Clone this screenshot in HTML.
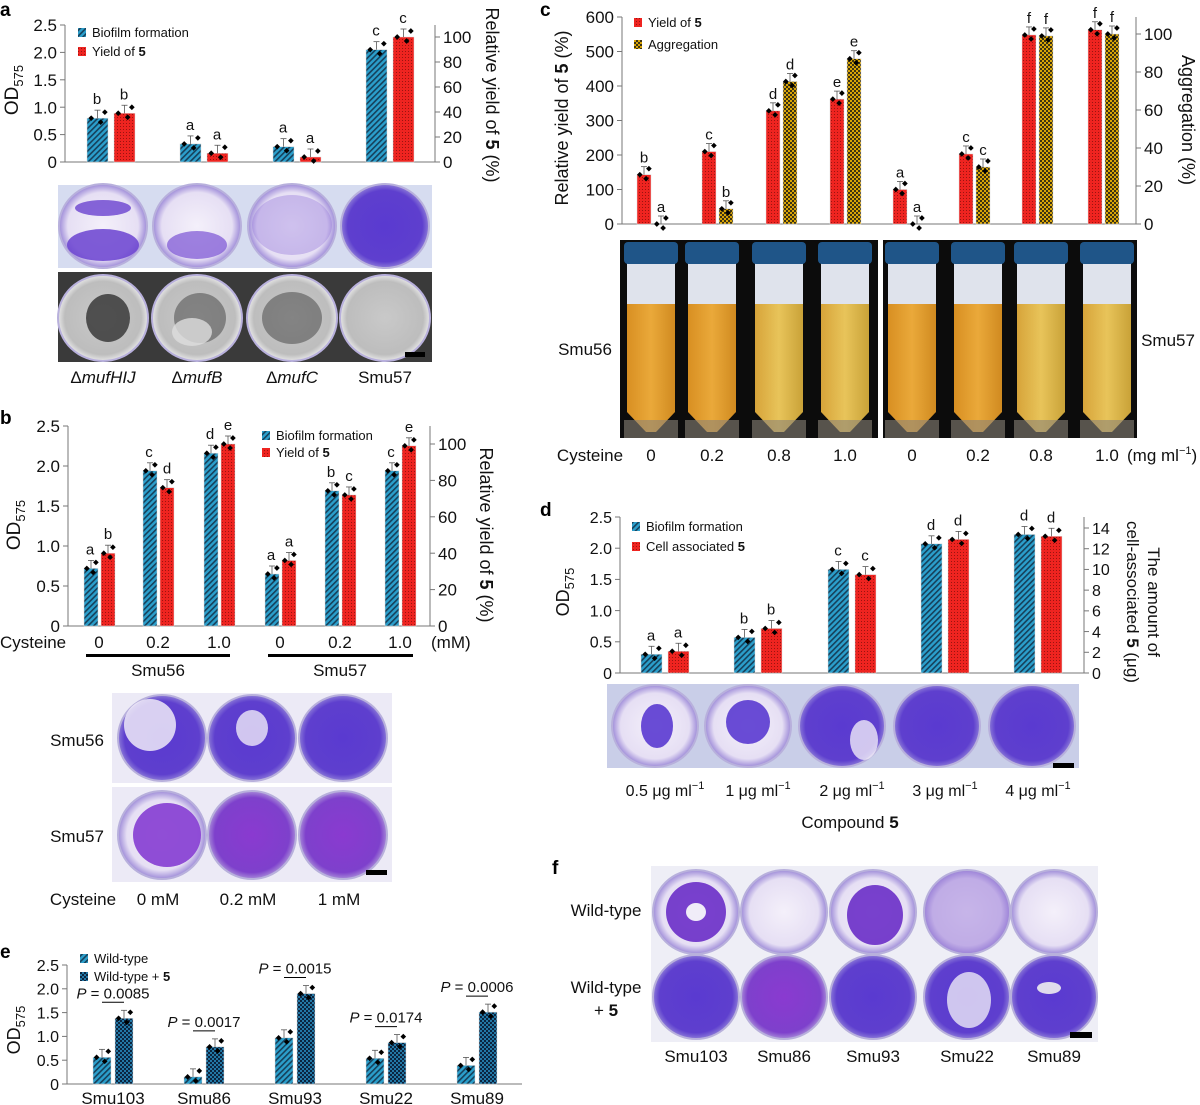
<!DOCTYPE html>
<html><head><meta charset="utf-8"><style>
html,body{margin:0;padding:0;background:#fff;}
svg{display:block;font-family:"Liberation Sans",Arial,sans-serif;}
</style></head><body>
<svg id="fig" width="1200" height="1105" viewBox="0 0 1200 1105" xmlns="http://www.w3.org/2000/svg">
<defs>
<pattern id="pBlue" width="4" height="4" patternUnits="userSpaceOnUse" patternTransform="rotate(45)"><rect width="4" height="4" fill="#2b9fcc"/><rect width="1.6" height="4" fill="#16405a"/></pattern>
<pattern id="pRed" width="3" height="3" patternUnits="userSpaceOnUse"><rect width="3" height="3" fill="#ee2420"/><rect width="1" height="1" fill="#9a1410"/></pattern>
<pattern id="pGold" width="4" height="4" patternUnits="userSpaceOnUse"><rect width="4" height="4" fill="#d8a406"/><rect width="2" height="2" fill="#3b3212"/><rect x="2" y="2" width="2" height="2" fill="#3b3212"/></pattern>
<pattern id="pDark" width="4" height="4" patternUnits="userSpaceOnUse"><rect width="4" height="4" fill="#2378a6"/><rect width="2" height="2" fill="#0b2540"/><rect x="2" y="2" width="2" height="2" fill="#0b2540"/></pattern>
<radialGradient id="gPurple"><stop offset="0" stop-color="#5a3ad0"/><stop offset="0.85" stop-color="#5e3fce"/><stop offset="1" stop-color="#8c7ad8"/></radialGradient>
<radialGradient id="gMag"><stop offset="0" stop-color="#8a3ad0"/><stop offset="0.85" stop-color="#7e40cc"/><stop offset="1" stop-color="#a78ad8"/></radialGradient>
<radialGradient id="gLight"><stop offset="0" stop-color="#f4f0fa"/><stop offset="0.8" stop-color="#e6dff4"/><stop offset="1" stop-color="#9d8ad8"/></radialGradient>
<radialGradient id="gGray"><stop offset="0" stop-color="#c9c9c9"/><stop offset="0.85" stop-color="#bdbdbd"/><stop offset="1" stop-color="#e6e6e6"/></radialGradient>
<linearGradient id="gAmber" x1="0" x2="1"><stop offset="0" stop-color="#d88f22"/><stop offset="0.5" stop-color="#eaa93a"/><stop offset="1" stop-color="#d08a20"/></linearGradient>
<linearGradient id="gYellow" x1="0" x2="1"><stop offset="0" stop-color="#d7a43a"/><stop offset="0.5" stop-color="#e8c45a"/><stop offset="1" stop-color="#c9a238"/></linearGradient>
</defs>
<g id="root"></g>
</svg>
<script>
// ===== Panel a data =====
const aCats = ['ΔmufHIJ','ΔmufB','ΔmufC','Smu57'];
const aBiofilm = [0.80, 0.33, 0.28, 2.05];
const aYield = [39, 7, 4, 100];
const aLetB = ['b','a','a','c'];
const aLetR = ['b','a','a','c'];
const aLeftTicks = [0,0.5,1.0,1.5,2.0,2.5];
const aRightTicks = [0,20,40,60,80,100];
// ===== Panel b data =====
const bCats = ['0','0.2','1.0','0','0.2','1.0'];
const bBiofilm = [0.72, 1.94, 2.16, 0.65, 1.69, 1.94];
const bYield = [40, 76, 100, 36, 72, 99];
const bLetB = ['a','c','d','a','b','c'];
const bLetR = ['b','d','e','a','c','e'];
const bRightTicks = [0,20,40,60,80,100];
// ===== Panel c data =====
const cCats = ['0','0.2','0.8','1.0','0','0.2','0.8','1.0'];
const cYield = [143, 210, 328, 362, 100, 203, 548, 563];
const cAggregation = [0, 8, 75, 87, 0, 30, 99, 100];
const cLetR = ['b','c','d','e','a','c','f','f'];
const cLetG = ['a','b','d','e','a','c','f','f'];
const cLeftTicks = [0,100,200,300,400,500,600];
const cRightTicks = [0,20,40,60,80,100];
// ===== Panel d data =====
const dCats = ['0.5 μg ml⁻¹','1 μg ml⁻¹','2 μg ml⁻¹','3 μg ml⁻¹','4 μg ml⁻¹'];
const dBiofilm = [0.30, 0.57, 1.66, 2.07, 2.22];
const dCell = [2.1, 4.3, 9.5, 12.9, 13.2];
const dLet = ['a','b','c','d','d'];
const dRightTicks = [0,2,4,6,8,10,12,14];
// ===== Panel e data =====
const eCats = ['Smu103','Smu86','Smu93','Smu22','Smu89'];
const eWT = [0.56, 0.15, 0.97, 0.54, 0.39];
const eWT5 = [1.38, 0.78, 1.90, 0.87, 1.51];
const eP = ['0.0085','0.0017','0.0015','0.0174','0.0006'];

const NS='http://www.w3.org/2000/svg';
const root=document.getElementById('root');
function el(tag,attrs,parent,text){const e=document.createElementNS(NS,tag);for(const k in attrs)e.setAttribute(k,attrs[k]);if(text!==undefined)e.textContent=text;(parent||root).appendChild(e);return e;}
function lin(d0,d1,r0,r1){return v=>r0+(v-d0)*(r1-r0)/(d1-d0);}
function grp(name){const g=el('g',{});return g;}
function txt(g,x,y,s,size,anchor,extra){const t=el('text',Object.assign({x:x,y:y,'font-size':size,'text-anchor':anchor||'middle',fill:'#111'},extra||{}),g,s);return t;}
function bar(g,x,w,yv,y0,fill,name){const r=el('rect',{x:x,y:Math.min(yv,y0),width:w,height:Math.abs(y0-yv),fill:fill,stroke:'#ddd','stroke-width':0.5},g);
 // error bar + points
 const cx=x+w/2;el('line',{x1:cx,y1:yv,x2:cx,y2:yv-8,stroke:'#555','stroke-width':0.8},g);el('line',{x1:cx-3,y1:yv-8,x2:cx+3,y2:yv-8,stroke:'#555','stroke-width':0.8},g);
 [[-w*0.3,0],[w*0.35,-6],[w*0.15,4]].forEach(p=>{el('rect',{x:cx+p[0]-2,y:yv+p[1]-2,width:4,height:4,fill:'#000',transform:`rotate(45 ${cx+p[0]} ${yv+p[1]})`},g);});
 return r;}
function leftAxis(g,x,yB,yT,ticks,sc,fmt,size){el('line',{x1:x,y1:yB,x2:x,y2:yT,stroke:'#777','stroke-width':1},g);ticks.forEach(t=>{const y=sc(t);el('line',{x1:x-5,y1:y,x2:x,y2:y,stroke:'#777'},g);txt(g,x-8,y+size*0.36,fmt(t),size,'end');});}
function rightAxis(g,x,yB,yT,ticks,sc,size){el('line',{x1:x,y1:yB,x2:x,y2:yT,stroke:'#777','stroke-width':1},g);ticks.forEach(t=>{const y=sc(t);el('line',{x1:x,y1:y,x2:x+5,y2:y,stroke:'#777'},g);txt(g,x+8,y+size*0.36,String(t),size,'start');});}
function f1(t){return t===0?'0':t.toFixed(1);}
function rotLabel(g,x,y,ang,html,size,name){const t=el('text',{x:0,y:0,'font-size':size,'text-anchor':'middle',fill:'#111',transform:`translate(${x},${y}) rotate(${ang})`},g);t.innerHTML=html;return t;}
function legend(g,x,y,fill,html,size,name){const r=el('rect',{x:x,y:y-9,width:8,height:9,fill:fill},g);const t=el('text',{x:x+14,y:y,'font-size':size,fill:'#111'},g);t.innerHTML=html;}
function panelLetter(x,y,s){const t=el('text',{x:x,y:y,'font-size':19,'font-weight':'bold',fill:'#000'},root,s);}
function well(g,cx,cy,rx,ry,fill,name){const c=el('ellipse',{cx:cx,cy:cy,rx:rx,ry:ry,fill:fill,stroke:'#b8b0dc','stroke-width':2},g);return c;}
function blob(g,cx,cy,rx,ry,fill,op){el('ellipse',{cx:cx,cy:cy,rx:rx,ry:ry,fill:fill,opacity:op||1},g);}

// ================= Panel a =================
panelLetter(0,16,'a');
{const g=grp('panel-a-chart');
 const y=lin(0,2.5,162,25), yr=lin(0,100,162,37);
 leftAxis(g,65,162,25,aLeftTicks,y,f1,17);
 rightAxis(g,435,162,25,aRightTicks,yr,17);
 el('line',{x1:65,y1:162,x2:435,y2:162,stroke:'#777'},g);
 const bx=[87,180,273,366];
 aCats.forEach((c,i)=>{const yb=y(aBiofilm[i]),yy=yr(aYield[i]);
  bar(g,bx[i],21,yb,162,'url(#pBlue)','bar-biofilm-'+i);
  bar(g,bx[i]+27,21,yy,162,'url(#pRed)','bar-yield-'+i);
  txt(g,bx[i]+10,yb-14,aLetB[i],15);txt(g,bx[i]+37,yy-14,aLetR[i],15);});
 legend(g,78,37,'url(#pBlue)','Biofilm formation',13,'legend-biofilm');
 legend(g,78,56,'url(#pRed)','Yield of <tspan font-weight="bold">5</tspan>',13,'legend-yield');
 rotLabel(g,18,90,-90,'OD<tspan font-size="13" dy="5">575</tspan>',19,'y-axis-title');
 rotLabel(g,486,95,90,'Relative yield of <tspan font-weight="bold">5</tspan> (%)',18,'right-axis-title');
}
{const g=grp('panel-a-photos');
 el('rect',{x:58,y:185,width:374,height:83,fill:'#d6dcf0'},g);
 el('rect',{x:58,y:272,width:374,height:90,fill:'#3a3a3a'},g);
 const cx=[103,197,292,385];
 const fills=['url(#gLight)','url(#gLight)','url(#gLight)','url(#gPurple)'];
 cx.forEach((x,i)=>{well(g,x,226,44,42,fills[i],'well-purple-'+i);well(g,x,318,45,43,'url(#gGray)','well-gray-'+i);});
 blob(g,103,245,36,16,'#6a42d0',0.85);blob(g,103,208,28,8,'#6a42d0',0.8);
 blob(g,197,245,30,14,'#7a52d4',0.7);blob(g,292,225,40,30,'#8a6ad8',0.35);
 blob(g,108,318,22,24,'#3a3a3a',0.85);blob(g,200,318,26,25,'#555',0.6);blob(g,292,318,30,26,'#4a4a4a',0.55);blob(g,192,332,20,14,'#ddd',0.8);
 el('rect',{x:405,y:352,width:20,height:5,fill:'#000'},g);
 ['ΔmufHIJ','ΔmufB','ΔmufC'].forEach((s,i)=>{const t=txt(g,cx[i],383,'',17);t.innerHTML='Δ<tspan font-style="italic">'+s.slice(1)+'</tspan>';});
 txt(g,385,383,'Smu57',17);
}

// ================= Panel b =================
panelLetter(0,424,'b');
{const g=grp('panel-b-chart');
 const y=lin(0,2.5,626,426), yr=lin(0,100,626,444);
 leftAxis(g,68,626,426,aLeftTicks,y,f1,17);
 rightAxis(g,430,626,426,bRightTicks,yr,17);
 el('line',{x1:68,y1:626,x2:430,y2:626,stroke:'#777'},g);
 const bx=[84,143,204,265,325,385];
 bCats.forEach((c,i)=>{const yb=y(bBiofilm[i]),yy=yr(bYield[i]);
  bar(g,bx[i],14,yb,626,'url(#pBlue)','bar-biofilm-'+i);
  bar(g,bx[i]+17,14,yy,626,'url(#pRed)','bar-yield-'+i);
  txt(g,bx[i]+6,yb-14,bLetB[i],15);txt(g,bx[i]+24,yy-14,bLetR[i],15);
  txt(g,bx[i]+15,648,c,17);});
 txt(g,0,648,'Cysteine',17,'start');txt(g,431,648,'(mM)',17,'start');
 el('rect',{x:86,y:654,width:144,height:3,fill:'#000'},g);el('rect',{x:268,y:654,width:145,height:3,fill:'#000'},g);
 txt(g,158,676,'Smu56',17);txt(g,340,676,'Smu57',17);
 legend(g,262,440,'url(#pBlue)','Biofilm formation',13,'legend-biofilm');
 legend(g,262,457,'url(#pRed)','Yield of <tspan font-weight="bold">5</tspan>',13,'legend-yield');
 rotLabel(g,20,525,-90,'OD<tspan font-size="13" dy="5">575</tspan>',19,'y-axis-title');
 rotLabel(g,480,535,90,'Relative yield of <tspan font-weight="bold">5</tspan> (%)',18,'right-axis-title');
}
{const g=grp('panel-b-photos');
 el('rect',{x:112,y:693,width:280,height:90,fill:'#eceaf6'},g);
 el('rect',{x:112,y:787,width:280,height:95,fill:'#eceaf6'},g);
 const cx=[162,252,343];
 well(g,162,738,44,43,'url(#gPurple)','well-smu56-0');blob(g,150,725,26,26,'#efeaf8',0.85);
 well(g,252,738,44,43,'url(#gPurple)','well-smu56-1');blob(g,252,728,16,18,'#efeaf8',0.8);
 well(g,343,738,44,43,'url(#gPurple)','well-smu56-2');
 well(g,162,835,44,44,'url(#gLight)','well-smu57-0');blob(g,167,835,34,32,'#8a44d4',0.95);
 well(g,252,835,44,44,'url(#gMag)','well-smu57-1');
 well(g,343,835,44,44,'url(#gMag)','well-smu57-2');
 el('rect',{x:366,y:870,width:21,height:5,fill:'#000'},g);
 txt(g,77,746,'Smu56',17);txt(g,77,842,'Smu57',17);
 txt(g,83,905,'Cysteine',17);cx.forEach((x,i)=>txt(g,x-4,905,['0 mM','0.2 mM','1 mM'][i],17));
}

// ================= Panel c =================
panelLetter(540,16,'c');
{const g=grp('panel-c-chart');
 const y=lin(0,600,224,17), yr=lin(0,100,224,34);
 leftAxis(g,622,224,17,cLeftTicks,y,String,17);
 rightAxis(g,1136,224,17,cRightTicks,yr,17);
 el('line',{x1:622,y1:224,x2:1136,y2:224,stroke:'#777'},g);
 const bx=[637,702,766,830,893,959,1022,1088];
 cCats.forEach((c,i)=>{const yy=y(cYield[i]),ya=yr(cAggregation[i]);
  bar(g,bx[i],14,yy,224,'url(#pRed)','bar-yield-'+i);
  bar(g,bx[i]+17,14,ya,224,'url(#pGold)','bar-aggregation-'+i);
  txt(g,bx[i]+7,yy-12,cLetR[i],15);txt(g,bx[i]+24,ya-12,cLetG[i],15);});
 legend(g,634,27,'url(#pRed)','Yield of <tspan font-weight="bold">5</tspan>',13,'legend-yield');
 legend(g,634,49,'url(#pGold)','Aggregation',13,'legend-aggregation');
 rotLabel(g,568,118,-90,'Relative yield of <tspan font-weight="bold">5</tspan> (%)',18,'y-axis-title');
 rotLabel(g,1182,120,90,'Aggregation (%)',18,'right-axis-title');
}
{const g=grp('panel-c-photos');
 el('rect',{x:620,y:240,width:258,height:198,fill:'#0c0c0c'},g);
 el('rect',{x:883,y:240,width:254,height:198,fill:'#0c0c0c'},g);
 const tx=[651,712,779,845,912,978,1041,1107];
 tx.forEach((x,i)=>{const t=grp('tube-'+i);
  const yellow=(i==2||i==3||i==6||i==7);
  el('path',{d:`M${x-24},303 L${x+24},303 L${x+24},412 L${x+5},432 L${x-5},432 L${x-24},412 Z`,fill:yellow?'url(#gYellow)':'url(#gAmber)'},t);
  el('rect',{x:x-24,y:262,width:48,height:42,fill:'#dfe3ec'},t);
  el('rect',{x:x-27,y:242,width:54,height:22,rx:4,fill:'#1f5588'},t);
  el('rect',{x:x-27,y:420,width:54,height:18,fill:'#8a8478',opacity:0.6},t);});
 el('rect',{x:1104,y:406,width:12,height:5,fill:'#000'},g);
 txt(g,585,355,'Smu56',17);txt(g,1168,346,'Smu57',17);
 txt(g,590,461,'Cysteine',17);
 cCats.forEach((c,i)=>txt(g,tx[i],461,c,17));
 const m=txt(g,1127,461,'',17,'start');m.innerHTML='(mg ml<tspan font-size="11" dy="-7">−1</tspan><tspan dy="7">)</tspan>';
}

// ================= Panel d =================
panelLetter(540,516,'d');
{const g=grp('panel-d-chart');
 const y=lin(0,2.5,673,517), yr=lin(0,14,673,528);
 leftAxis(g,620,673,517,aLeftTicks,y,f1,16);
 rightAxis(g,1084,673,517,dRightTicks,yr,16);
 el('line',{x1:620,y1:673,x2:1084,y2:673,stroke:'#777'},g);
 const bx=[641,734,828,921,1014];
 dCats.forEach((c,i)=>{const yb=y(dBiofilm[i]),yc=yr(dCell[i]);
  bar(g,bx[i],21,yb,673,'url(#pBlue)','bar-biofilm-'+i);
  bar(g,bx[i]+27,21,yc,673,'url(#pRed)','bar-cell-'+i);
  txt(g,bx[i]+10,yb-14,dLet[i],15);txt(g,bx[i]+37,yc-14,dLet[i],15);
  const t=txt(g,bx[i]+24,796,'',16);t.innerHTML=c.replace('⁻¹','<tspan font-size="11" dy="-7">−1</tspan>');});
 legend(g,632,531,'url(#pBlue)','Biofilm formation',13,'legend-biofilm');
 legend(g,632,551,'url(#pRed)','Cell associated <tspan font-weight="bold">5</tspan>',13,'legend-cell');
 rotLabel(g,569,592,-90,'OD<tspan font-size="13" dy="5">575</tspan>',18,'y-axis-title');
 rotLabel(g,1148,602,90,'The amount of',17,'right-axis-title-1');
 rotLabel(g,1127,602,90,'cell-associated <tspan font-weight="bold">5</tspan> (μg)',17,'right-axis-title-2');
 const ct=txt(g,850,828,'',17);ct.innerHTML='Compound <tspan font-weight="bold">5</tspan>';
}
{const g=grp('panel-d-photos');
 el('rect',{x:607,y:684,width:472,height:84,fill:'#c9cee8'},g);
 const cx=[655,748,842,937,1032];
 well(g,cx[0],726,43,41,'url(#gLight)','well-d-0');blob(g,cx[0]+2,726,16,22,'#5a3ad0',0.9);
 well(g,cx[1],726,43,41,'url(#gLight)','well-d-1');blob(g,cx[1],722,22,22,'#5a3ad0',0.9);
 well(g,cx[2],726,43,41,'url(#gPurple)','well-d-2');blob(g,cx[2]+22,740,14,20,'#efeaf8',0.8);
 well(g,cx[3],726,43,41,'url(#gPurple)','well-d-3');
 well(g,cx[4],726,43,41,'url(#gPurple)','well-d-4');
 el('rect',{x:1053,y:763,width:21,height:5,fill:'#000'},g);
}

// ================= Panel e =================
panelLetter(0,958,'e');
{const g=grp('panel-e-chart');
 const y=lin(0,2.5,1084,965);
 leftAxis(g,67,1084,965,aLeftTicks,y,f1,16);
 el('line',{x1:67,y1:1084,x2:522,y2:1084,stroke:'#777'},g);
 const bx=[93,184,275,366,457];
 eCats.forEach((c,i)=>{const yw=y(eWT[i]),y5=y(eWT5[i]);
  bar(g,bx[i],18,yw,1084,'url(#pBlue)','bar-wildtype-'+i);
  bar(g,bx[i]+22,18,y5,1084,'url(#pDark)','bar-wildtype5-'+i);
  const py=y5-20;
  el('line',{x1:bx[i]+9,y1:py+4,x2:bx[i]+31,y2:py+4,stroke:'#000','stroke-width':1},g);
  const t=txt(g,bx[i]+20,py,'',15);t.innerHTML='<tspan font-style="italic">P</tspan> = '+eP[i];
  txt(g,bx[i]+20,1104,c,17);});
 legend(g,80,963,'url(#pBlue)','Wild-type',13,'legend-wildtype');
 legend(g,80,981,'url(#pDark)','Wild-type + <tspan font-weight="bold">5</tspan>',13,'legend-wildtype5');
 rotLabel(g,20,1030,-90,'OD<tspan font-size="13" dy="5">575</tspan>',18,'y-axis-title');
}

// ================= Panel f =================
panelLetter(552,874,'f');
{const g=grp('panel-f-photos');
 el('rect',{x:651,y:866,width:447,height:176,fill:'#eeeef6'},g);
 const cx=[696,784,873,967,1054];
 well(g,cx[0],912,43,42,'url(#gLight)','well-wt-0');blob(g,cx[0],912,30,30,'#6a2ec8',0.9);blob(g,cx[0],912,10,9,'#f0ecf8');
 well(g,cx[1],912,43,42,'url(#gLight)','well-wt-1');
 well(g,cx[2],912,43,42,'url(#gLight)','well-wt-2');blob(g,cx[2]+2,915,28,30,'#6a2ec8',0.9);
 well(g,cx[3],912,43,42,'url(#gLight)','well-wt-3');blob(g,cx[3],912,42,41,'#9a7ad8',0.5);
 well(g,cx[4],912,43,42,'url(#gLight)','well-wt-4');
 well(g,cx[0],997,43,42,'url(#gPurple)','well-wt5-0');
 well(g,cx[1],997,43,42,'url(#gMag)','well-wt5-1');
 well(g,cx[2],997,43,42,'url(#gPurple)','well-wt5-2');
 well(g,cx[3],997,43,42,'url(#gPurple)','well-wt5-3');blob(g,cx[3]+2,1000,22,28,'#ece8f6',0.8);
 well(g,cx[4],997,43,42,'url(#gPurple)','well-wt5-4');blob(g,cx[4]-5,988,12,6,'#eee',0.9);
 el('rect',{x:1070,y:1032,width:22,height:6,fill:'#000'},g);
 txt(g,606,916,'Wild-type',17);txt(g,606,993,'Wild-type',17);
 const p=txt(g,606,1016,'',17);p.innerHTML='+ <tspan font-weight="bold">5</tspan>';
 eCats.forEach((c,i)=>txt(g,cx[i],1062,c,17));
}
</script>
</body></html>
